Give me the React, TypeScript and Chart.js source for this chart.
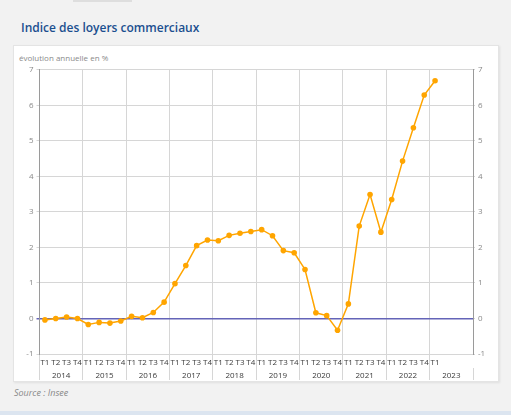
import React, { useEffect, useRef } from "react";
import { Chart, registerables } from "chart.js";

Chart.register(...registerables);

const years = ["2014", "2015", "2016", "2017", "2018", "2019", "2020", "2021", "2022", "2023"];
const quarterNames = ["T1", "T2", "T3", "T4"];
const lastQuarterLabelled = 37; // through 2023 T1
const quarterLabels = years
  .flatMap((y) => quarterNames.map((q) => q))
  .map((q, i) => (i < lastQuarterLabelled ? q : ""));
const ilcValues = [
  -0.04, 0.0, 0.04, 0.0,
  -0.17, -0.11, -0.13, -0.07,
  0.06, 0.02, 0.17, 0.46,
  0.98, 1.49, 2.05, 2.21,
  2.19, 2.34, 2.4, 2.45,
  2.5, 2.33, 1.91, 1.85,
  1.38, 0.16, 0.08, -0.33,
  0.41, 2.6, 3.49, 2.43,
  3.35, 4.43, 5.37, 6.29,
  6.69, null, null, null,
];
const yTicksMin = -1;
const yTicksMax = 7;

const FONT = "'Open Sans', 'Noto Sans', sans-serif";
const GRID = "#d6d6d6";

export default function App() {
  const ref = useRef<HTMLCanvasElement | null>(null);

  useEffect(() => {
    if (!ref.current) return;
    const tickFont = { family: FONT, size: 8 };
    const chart = new Chart(ref.current, {
      type: "line",
      data: {
        labels: quarterLabels,
        datasets: [
          {
            data: ilcValues,
            borderColor: "#FFA500",
            backgroundColor: "#FFA500",
            borderWidth: 1.5,
            pointRadius: 2.8,
            pointHoverRadius: 3,
            pointBorderWidth: 0,
            tension: 0,
            spanGaps: false,
          },
        ],
      },
      options: {
        animation: false,
        responsive: false,
        maintainAspectRatio: false,
        layout: { padding: { top: 6, bottom: 1, left: 0, right: 0 } },
        plugins: { legend: { display: false }, tooltip: { enabled: false } },
        scales: {
          x: {
            type: "category",
            position: "bottom",
            weight: 0,
            offset: true,
            grid: {
              offset: true,
              drawOnChartArea: true,
              drawTicks: true,
              tickLength: 14,
              color: (ctx: any) => (ctx.index % 4 === 0 ? GRID : "rgba(0,0,0,0)"),
              lineWidth: 1,
            },
            border: { display: false },
            ticks: {
              autoSkip: false,
              maxRotation: 0,
              minRotation: 0,
              padding: -10,
              color: "#3a3a3a",
              font: tickFont,
            },
            afterFit: (s: any) => {
              s.height = 14;
            },
          },
          x2: {
            type: "category",
            position: "bottom",
            weight: 1,
            labels: years,
            offset: true,
            grid: {
              offset: true,
              drawOnChartArea: false,
              drawTicks: true,
              tickLength: 12,
              color: GRID,
            },
            border: { display: false },
            ticks: {
              autoSkip: false,
              maxRotation: 0,
              padding: -9,
              color: "#3a3a3a",
              font: tickFont,
            },
            afterFit: (s: any) => {
              s.height = 12;
            },
          },
          y: {
            position: "left",
            min: yTicksMin,
            max: yTicksMax,
            ticks: { stepSize: 1, color: "#888", font: tickFont, padding: 3 },
            grid: {
              color: (ctx: any) => (ctx.tick && ctx.tick.value === 0 ? "#6464b8" : GRID),
              lineWidth: (ctx: any) => (ctx.tick && ctx.tick.value === 0 ? 1.5 : 1),
              drawTicks: true,
              tickLength: 3,
            },
            border: { display: true, color: "#9a9a9a", width: 1 },
            afterFit: (s: any) => {
              s.width = 25.5;
            },
          },
          y2: {
            position: "right",
            min: yTicksMin,
            max: yTicksMax,
            ticks: { stepSize: 1, color: "#888", font: tickFont, padding: 3 },
            grid: { drawOnChartArea: false, drawTicks: true, tickLength: 2, color: GRID },
            border: { display: true, color: "#9a9a9a", width: 1 },
            afterFit: (s: any) => {
              s.width = 25;
            },
          },
        },
      },
    });
    return () => chart.destroy();
  }, []);

  return (
    <div
      style={{
        position: "fixed",
        left: 0,
        top: 0,
        width: 511,
        height: 415,
        background: "#f2f2f2",
        fontFamily: FONT,
        overflow: "hidden",
      }}
    >
      <div style={{ position: "absolute", left: 73, top: 0, width: 59, height: 2, background: "#dedede" }} />
      <div
        style={{
          position: "absolute",
          left: 21,
          top: 19,
          fontSize: 12,
          fontWeight: 600,
          color: "#1b4f8f",
          whiteSpace: "nowrap",
        }}
      >
        Indice des loyers commerciaux
      </div>
      <div
        style={{
          position: "absolute",
          left: 13,
          top: 45,
          width: 484,
          height: 335,
          background: "#ffffff",
          border: "1px solid #e4e4e4",
          boxShadow: "1px 1px 2px rgba(0,0,0,0.08)",
        }}
      >
        <div
          style={{
            position: "absolute",
            left: 5,
            top: 6,
            fontSize: 8,
            color: "#8a8a8a",
            whiteSpace: "nowrap",
          }}
        >
          évolution annuelle en %
        </div>
        <canvas ref={ref} width={484} height={319} style={{ position: "absolute", left: 0, top: 16, width: 484, height: 319 }} />
      </div>
      <div
        style={{
          position: "absolute",
          left: 14,
          top: 386,
          fontSize: 9,
          fontStyle: "italic",
          color: "#888",
          whiteSpace: "nowrap",
        }}
      >
        Source : Insee
      </div>
      <div style={{ position: "absolute", left: 0, top: 411, width: 511, height: 4, background: "#dce5f0" }} />
    </div>
  );
}
